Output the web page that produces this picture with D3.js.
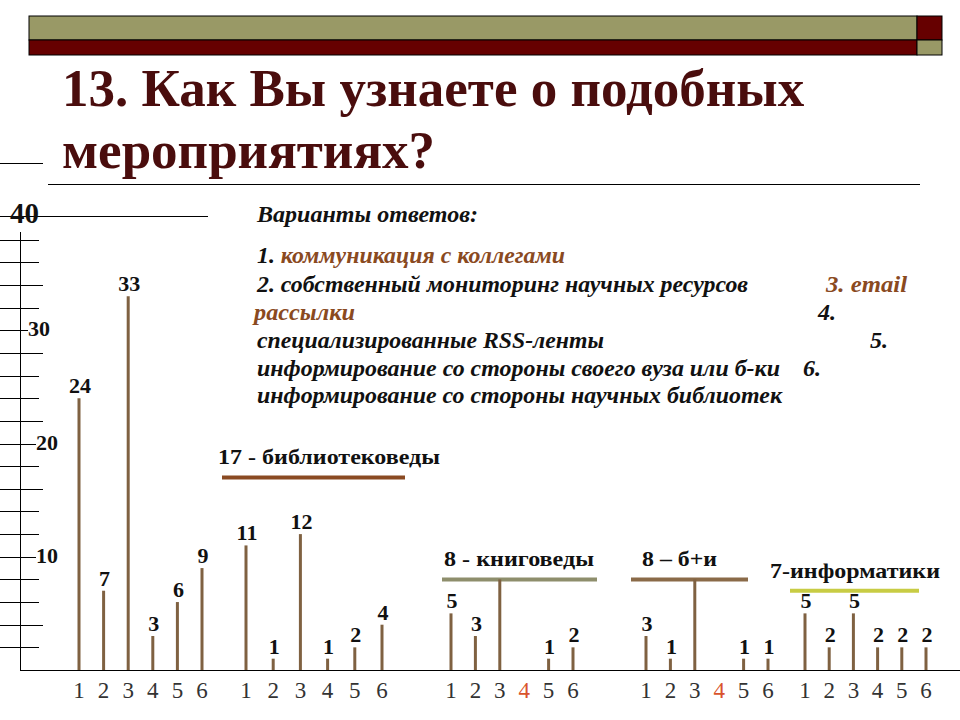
<!DOCTYPE html>
<html><head><meta charset="utf-8">
<script src="https://cdn.jsdelivr.net/npm/d3@7"></script>
<style>body{margin:0;background:#fff;}svg{display:block;}</style>
</head><body>
<svg id="c" width="960" height="720"></svg>
<script>
// ---- data ----
const categories = ["1","2","3","4","5","6"];
const groupNames = ["40", "17 - библиотековеды", "8 - книговеды", "8 – б+и", "7-информатики"];
const groupTotals = [40, 17, 8, 8, 7];
const valuesAll  = [24, 7, 33, 3, 6, 9];
const valuesLib  = [11, 1, 12, 1, 2, 4];
const valuesBook = [5, 3, 8, null, 1, 2];
const valuesBI   = [3, 1, 8, null, 1, 1];
const valuesInf  = [5, 2, 5, 2, 2, 2];
const seriesValues = [valuesAll, valuesLib, valuesBook, valuesBI, valuesInf];
const yTickValues = [10, 20, 30];
const titleLines = ["13. Как Вы узнаете о подобных", "мероприятиях?"];

// ---- layout ----
const svg = d3.select("#c");
const serif = "'Liberation Serif','Times New Roman',serif";
const y = d3.scaleLinear().domain([0, 40]).range([670, 217]);
const groupRanges = [[79,202],[246,382],[451,573],[646,768],[805,926]];
const groupScales = groupRanges.map(r => d3.scalePoint().domain(categories).range(r));
const groupLineX = [[0,208],[222,405],[442,597],[631,748],[790,919]];
const groupLabelX = [10, 218, 444, 642, 770];
const groupLabelLen = [null, 222, 150, 75, 170];
const groupLineColors = ["#000", "#8a4a22", "#8e8e6c", "#8a6a48", "#c8cc44"];
const stemColor = "#7f6141";

// top decorative bars
svg.append("rect").attr("x",29).attr("y",16).attr("width",888).attr("height",24).attr("fill","#999966").attr("stroke","#000").attr("stroke-width",1);
svg.append("rect").attr("x",29).attr("y",40).attr("width",888).attr("height",15).attr("fill","#660000").attr("stroke","#000").attr("stroke-width",1);
svg.append("rect").attr("x",917).attr("y",16).attr("width",25).attr("height",24).attr("fill","#660000").attr("stroke","#000").attr("stroke-width",1);
svg.append("rect").attr("x",917).attr("y",40).attr("width",25).attr("height",15).attr("fill","#999966").attr("stroke","#000").attr("stroke-width",1);

// title
svg.append("g").selectAll("text").data(titleLines).join("text")
  .attr("x", 62).attr("y", (d,i) => 106 + i*62)
  .attr("font-family", serif).attr("font-weight","bold").attr("font-size", 53)
  .attr("fill", "#4a0d0d").text(d => d);
svg.append("line").attr("x1",48).attr("x2",920).attr("y1",184.5).attr("y2",184.5).attr("stroke","#000").attr("stroke-width",1);
svg.append("line").attr("x1",0).attr("x2",43).attr("y1",163.5).attr("y2",163.5).attr("stroke","#000").attr("stroke-width",1);

// legend text
const lg = svg.append("g").attr("font-family", serif).attr("font-style","italic").attr("font-weight","bold").attr("font-size", 24);
const black = "#111", brown = "#8a4a1f";
const legendItems = [
  {x:257, y:222, parts:[["Варианты ответов:", black]], len:221},
  {x:257, y:263, parts:[["1. ", black],["коммуникация  с коллегами", brown]], len:308},
  {x:257, y:292, parts:[["2. собственный мониторинг научных ресурсов", black]], len:491},
  {x:826, y:292, parts:[["3. email", brown]], len:81},
  {x:254, y:320, parts:[["рассылки", brown]], len:101},
  {x:818, y:320, parts:[["4.", black]]},
  {x:257, y:348, parts:[["специализированные RSS-ленты", black]], len:347},
  {x:870, y:348, parts:[["5.", black]]},
  {x:257, y:376, parts:[["информирование со стороны своего вуза или б-ки", black]], len:523},
  {x:803, y:376, parts:[["6.", black]]},
  {x:257, y:403, parts:[["информирование со стороны научных библиотек", black]], len:525}
];
legendItems.forEach(it => {
  const t = lg.append("text").attr("x", it.x).attr("y", it.y);
  if (it.len) t.attr("textLength", it.len).attr("lengthAdjust","spacingAndGlyphs");
  it.parts.forEach(p => t.append("tspan").attr("fill", p[1]).text(p[0]));
});

// y axis
const ax = svg.append("g");
ax.append("line").attr("x1",20.5).attr("x2",20.5).attr("y1",232).attr("y2",y(0)).attr("stroke","#000");
ax.selectAll("line.tick").data(d3.range(2, 40, 2)).join("line").attr("class","tick")
  .attr("x1",0).attr("x2",(d,i) => d===30 ? 28 : (d%10===0 ? 36 : (i%3===1 ? 43 : 39)))
  .attr("y1", d => Math.round(y(d))+0.5).attr("y2", d => Math.round(y(d))+0.5).attr("stroke","#000");
ax.selectAll("text").data(yTickValues).join("text")
  .attr("x", d => d===30 ? 28 : 36).attr("y", d => y(d)+6)
  .attr("font-family", serif).attr("font-weight","bold").attr("font-size",22).attr("fill","#111")
  .text(d => d);
// baseline
svg.append("line").attr("x1",20).attr("x2",960).attr("y1",y(0)+0.5).attr("y2",y(0)+0.5).attr("stroke","#000");

// group lines and labels
groupNames.forEach((name, gi) => {
  const yy = y(groupTotals[gi]);
  svg.append("line").attr("x1", groupLineX[gi][0]).attr("x2", groupLineX[gi][1])
    .attr("y1", gi===0 ? 216.5 : yy).attr("y2", gi===0 ? 216.5 : yy)
    .attr("stroke", groupLineColors[gi]).attr("stroke-width", gi===0 ? 1 : 4);
  const t = svg.append("text").attr("x", groupLabelX[gi]).attr("y", gi===0 ? 223 : yy - 13)
    .attr("font-family", serif).attr("font-weight","bold").attr("font-size", gi===0 ? 29 : 22)
    .attr("fill","#111").text(name);
  if (groupLabelLen[gi]) t.attr("textLength", groupLabelLen[gi]).attr("lengthAdjust","spacingAndGlyphs");
});

// stems, value labels, category labels
seriesValues.forEach((vals, gi) => {
  const xs = groupScales[gi];
  const g = svg.append("g");
  const data = categories.map((c, i) => ({c, v: vals[i]}));
  g.selectAll("line").data(data.filter(d => d.v != null)).join("line")
    .attr("x1", d => xs(d.c)).attr("x2", d => xs(d.c))
    .attr("y1", y(0)).attr("y2", d => y(d.v))
    .attr("stroke", stemColor).attr("stroke-width", 3);
  g.selectAll("text.val").data(data.filter(d => d.v != null && d.v !== groupTotals[gi])).join("text").attr("class","val")
    .attr("x", d => xs(d.c) + 1).attr("y", d => y(d.v) - 5)
    .attr("text-anchor","middle").attr("font-family", serif).attr("font-weight","bold").attr("font-size",22).attr("fill","#111")
    .text(d => d.v);
  g.selectAll("text.cat").data(data).join("text").attr("class","cat")
    .attr("x", d => xs(d.c)).attr("y", 698)
    .attr("text-anchor","middle").attr("font-family", serif).attr("font-size",23)
    .attr("fill", d => d.v == null ? "#d9532c" : "#333")
    .text(d => d.c);
});
</script>
</body></html>
